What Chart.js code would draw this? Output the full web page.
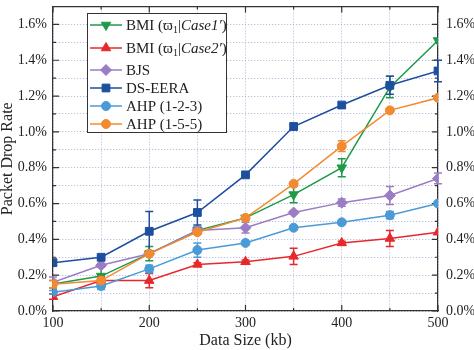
<!DOCTYPE html>
<html lang="en">
<head>
<meta charset="UTF-8">
<title>Packet Drop Rate vs Data Size</title>
<script src="https://cdn.jsdelivr.net/npm/chart.js@4"></script>
<style>
  html, body { margin: 0; padding: 0; background: #fff; }
</style>
</head>
<body>
<canvas id="dropChart" width="474" height="350"></canvas>
<script>
// data (values in %)
const dataSizes = [100, 150, 200, 250, 300, 350, 400, 450, 500];
const seriesNames = ['BMI (ϖ1|Case1′)', 'BMI (ϖ1|Case2′)', 'BJS', 'DS-EERA', 'AHP (1-2-3)', 'AHP (1-5-5)'];

const bmiCase1 = [0.15, 0.195, 0.32, 0.45, 0.52, 0.65, 0.80, 1.25, 1.51];
const bmiCase1Err = [0.02, 0.05, 0.04, 0.02, 0.01, 0.045, 0.05, 0.06, 0];
const bmiCase2 = [0.08, 0.17, 0.17, 0.26, 0.275, 0.305, 0.38, 0.405, 0.44];
const bmiCase2Err = [0.015, 0.02, 0.04, 0.01, 0.01, 0.045, 0.01, 0.045, 0];
const bjs = [0.16, 0.255, 0.32, 0.45, 0.465, 0.55, 0.605, 0.645, 0.74];
const bjsErr = [0.03, 0.01, 0.01, 0.02, 0.03, 0.01, 0.02, 0.05, 0.03];
const dsEera = [0.27, 0.30, 0.445, 0.55, 0.76, 1.03, 1.15, 1.26, 1.34];
const dsEeraErr = [0, 0.01, 0.11, 0.07, 0, 0, 0, 0.05, 0.06];
const ahp123 = [0.105, 0.14, 0.235, 0.34, 0.38, 0.465, 0.495, 0.535, 0.60];
const ahp123Err = [0.01, 0.02, 0.02, 0.04, 0, 0.01, 0.01, 0.02, 0];
const ahp155 = [0.15, 0.17, 0.32, 0.44, 0.52, 0.71, 0.92, 1.12, 1.19];
const ahp155Err = [0.02, 0.01, 0.01, 0.01, 0.01, 0.01, 0.03, 0.01, 0];

const yTickLabels = ['0.0%', '0.2%', '0.4%', '0.6%', '0.8%', '1.0%', '1.2%', '1.4%', '1.6%'];

const FONT = '"Liberation Serif", "DejaVu Serif", serif';
const gridColor = '#aab3d8';
const frameColor = '#333';

function series(i, vals, errs, color, style, rot) {
    return {
        label: seriesNames[i],
        data: dataSizes.map((x, k) => ({ x: x, y: vals[k] })),
        errors: errs,
        borderColor: color,
        backgroundColor: color,
        borderWidth: 1.5,
        pointStyle: style,
        pointRadius: style === 'circle' ? 4.5 : 5.5,
        pointRotation: rot || 0,
        pointBorderWidth: 1,
        tension: 0,
        order: 6 - i
    };
}

// error bars, drawn with the y scale
const errorBars = {
    id: 'errorBars',
    afterDatasetDraw(chart, args) {
        const ds = chart.data.datasets[args.index];
        if (!ds.errors) return;
        const y = chart.scales.y;
        const ctx = chart.ctx;
        ctx.save();
        ctx.strokeStyle = ds.borderColor;
        ctx.lineWidth = 1.5;
        ctx.beginPath();
        args.meta.data.forEach((pt, i) => {
            const e = ds.errors[i];
            if (!e) return;
            const top = y.getPixelForValue(ds.data[i].y + e);
            const bot = y.getPixelForValue(ds.data[i].y - e);
            ctx.moveTo(pt.x, top); ctx.lineTo(pt.x, bot);
            ctx.moveTo(pt.x - 4, top); ctx.lineTo(pt.x + 4, top);
            ctx.moveTo(pt.x - 4, bot); ctx.lineTo(pt.x + 4, bot);
        });
        ctx.stroke();
        ctx.restore();
    }
};

// tick marks pointing into the plot, on all four sides
const innerTicks = {
    id: 'innerTicks',
    beforeDatasetsDraw(chart) {
        const { ctx, chartArea: a, scales } = chart;
        ctx.save();
        ctx.strokeStyle = frameColor;
        ctx.lineWidth = 1.2;
        ctx.beginPath();
        scales.y.ticks.forEach(t => {
            const py = scales.y.getPixelForValue(t.value);
            const len = Math.round(t.value * 10) % 2 === 0 ? 6 : 3;
            ctx.moveTo(a.left, py); ctx.lineTo(a.left + len, py);
            ctx.moveTo(a.right, py); ctx.lineTo(a.right - len, py);
        });
        scales.x.ticks.forEach(t => {
            const px = scales.x.getPixelForValue(t.value);
            const len = t.value % 100 === 0 ? 6 : 3;
            ctx.moveTo(px, a.bottom); ctx.lineTo(px, a.bottom - len);
            ctx.moveTo(px, a.top); ctx.lineTo(px, a.top + len);
        });
        ctx.stroke();
        ctx.restore();
    }
};

// legend label with subscript and italic parts
function drawLabel(ctx, text, x, y) {
    const m = text.match(/^(.*ϖ)(\d)\|(.*)(\))$/);
    const parts = m ? [[m[1], ''], [m[2], 'sub'], ['|', ''], [m[3], 'italic'], [m[4], '']] : [[text, '']];
    parts.forEach(([s, kind]) => {
        if (kind === 'italic') ctx.font = 'italic 15px ' + FONT;
        else if (kind === 'sub') ctx.font = '10px ' + FONT;
        else ctx.font = '15px ' + FONT;
        ctx.fillText(s, x, kind === 'sub' ? y + 3 : y);
        x += ctx.measureText(s).width;
    });
}

const boxLegend = {
    id: 'boxLegend',
    afterDraw(chart) {
        const ctx = chart.ctx;
        const rows = [25, 48, 70, 88, 106, 124];
        ctx.save();
        ctx.fillStyle = '#fff';
        ctx.fillRect(87.5, 13.5, 139, 119);
        ctx.strokeStyle = frameColor;
        ctx.lineWidth = 1;
        ctx.strokeRect(87.5, 13.5, 139, 119);
        chart.data.datasets.forEach((ds, i) => {
            const cy = rows[i];
            ctx.strokeStyle = ds.borderColor;
            ctx.fillStyle = ds.backgroundColor;
            ctx.lineWidth = 1.5;
            ctx.beginPath();
            ctx.moveTo(90, cy); ctx.lineTo(122, cy);
            ctx.stroke();
            ctx.lineWidth = 1;
            Chart.helpers.drawPoint(ctx, {
                pointStyle: ds.pointStyle, radius: ds.pointRadius,
                rotation: ds.pointRotation, borderWidth: 1
            }, 106, cy);
            ctx.fillStyle = '#222';
            ctx.textBaseline = 'alphabetic';
            ctx.textAlign = 'left';
            drawLabel(ctx, ds.label, 126, cy + 5);
        });
        ctx.restore();
    }
};

function yLabel(v) {
    const k = Math.round(v * 10);
    return k % 2 === 0 && yTickLabels[k / 2] ? yTickLabels[k / 2] : '';
}

const tickFont = { family: FONT, size: 14, lineHeight: 0.1 };

new Chart(document.getElementById('dropChart'), {
    type: 'line',
    data: {
        datasets: [
            series(0, bmiCase1, bmiCase1Err, '#1f9a48', 'triangle', 180),
            series(1, bmiCase2, bmiCase2Err, '#e6282c', 'triangle', 0),
            series(2, bjs, bjsErr, '#9c7cc4', 'rectRot', 0),
            series(3, dsEera, dsEeraErr, '#1d4f9e', 'rect', 0),
            series(4, ahp123, ahp123Err, '#4b9ad8', 'circle', 0),
            series(5, ahp155, ahp155Err, '#f28a30', 'circle', 0)
        ]
    },
    options: {
        responsive: false,
        animation: false,
        devicePixelRatio: 1,
        events: [],
        layout: { padding: 0 },
        plugins: { legend: { display: false }, tooltip: { enabled: false } },
        scales: {
            x: {
                type: 'linear', position: 'bottom', min: 100, max: 500,
                ticks: {
                    stepSize: 50, autoSkip: false, maxRotation: 0, padding: 4,
                    color: '#222', font: { family: FONT, size: 14 },
                    callback: v => v % 100 === 0 ? String(v) : ''
                },
                grid: { color: gridColor, lineWidth: 1, drawTicks: false },
                border: { color: frameColor, width: 1.2, dash: [1, 2] },
                title: {
                    display: true, text: 'Data Size (kb)', color: '#222',
                    font: { family: FONT, size: 16 }, padding: { top: 0, bottom: 0 }
                },
                afterFit: s => { s.height = 39; }
            },
            x2: {
                type: 'linear', axis: 'x', position: 'top', min: 100, max: 500,
                ticks: { display: false },
                grid: { drawOnChartArea: false, drawTicks: false },
                border: { color: frameColor, width: 1.2 },
                afterFit: s => { s.height = 0; }
            },
            y: {
                position: 'left', min: 0, max: 1.7,
                ticks: { stepSize: 0.1, autoSkip: false, padding: 0, color: '#222', font: tickFont, callback: yLabel },
                grid: { color: gridColor, lineWidth: 1, tickLength: 6, tickColor: 'transparent' },
                border: { color: frameColor, width: 1.2, dash: [1, 2] },
                title: {
                    display: true, text: 'Packet Drop Rate', color: '#222',
                    font: { family: FONT, size: 16, lineHeight: 1 }, padding: 0
                },
                afterFit: s => { s.width = 53; }
            },
            y2: {
                type: 'linear', axis: 'y', position: 'right', min: 0, max: 1.7,
                ticks: { stepSize: 0.1, autoSkip: false, padding: 2, color: '#222', font: tickFont, callback: yLabel },
                grid: { drawOnChartArea: false, tickLength: 6, tickColor: 'transparent' },
                border: { color: frameColor, width: 1.2 },
                afterFit: s => { s.width = 36; }
            }
        }
    },
    plugins: [innerTicks, errorBars, boxLegend]
});
</script>
</body>
</html>
